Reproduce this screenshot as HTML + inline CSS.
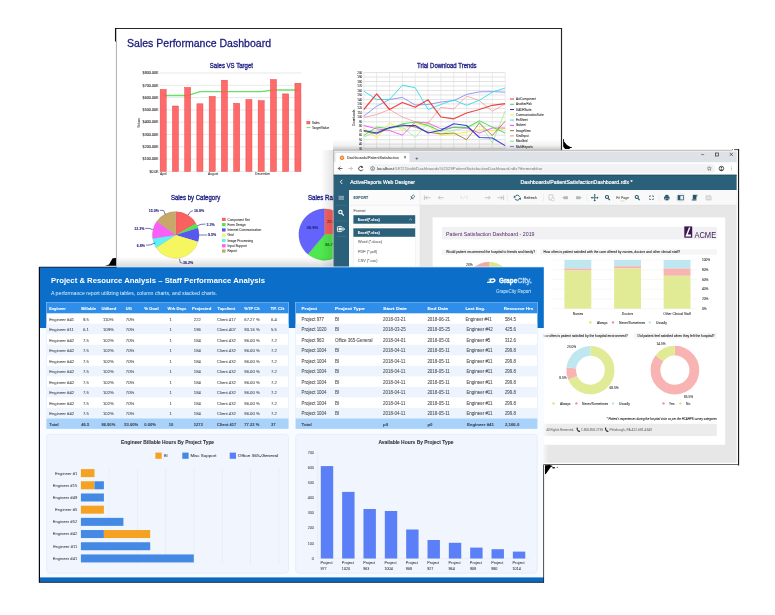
<!DOCTYPE html>
<html><head><meta charset="utf-8"><title>Dashboards</title>
<style>
html,body{margin:0;padding:0;background:#fff;}
body{width:775px;height:615px;position:relative;overflow:hidden;font-family:"Liberation Sans", sans-serif;}
svg text{font-family:"Liberation Sans", sans-serif;}
</style></head><body>
<div style="position:absolute;left:110px;top:24px;width:456px;height:250px;overflow:hidden;will-change:transform;"><svg width="456" height="250" viewBox="110 24 456 250" style="position:absolute;left:0;top:0;display:block" font-family='"Liberation Sans", sans-serif'><rect x="115.50" y="28.00" width="446.50" height="245.00" fill="#fff" /><line x1="115.00" y1="28.50" x2="562.10" y2="28.50" stroke="#262626" stroke-width="1.1" /><line x1="561.50" y1="28.00" x2="561.50" y2="152.00" stroke="#262626" stroke-width="1.15" /><line x1="115.60" y1="28.00" x2="115.60" y2="41.50" stroke="#111" stroke-width="1.3" /><line x1="116.40" y1="41.00" x2="116.40" y2="268.00" stroke="#8a8a8a" stroke-width="0.7" /><text x="127.00" y="47.20" font-size="11.4" fill="#17177a" textLength="144.00" lengthAdjust="spacingAndGlyphs" stroke="#17177a" stroke-width="0.28">Sales Performance Dashboard</text><text x="209.80" y="67.60" font-size="6.4" fill="#1c1c84" textLength="43.20" lengthAdjust="spacingAndGlyphs" stroke="#1c1c84" stroke-width="0.3">Sales VS Target</text><line x1="159.50" y1="73.00" x2="301.50" y2="73.00" stroke="#d9d9d9" stroke-width="0.6" /><text x="158.60" y="74.20" font-size="3.3" fill="#2a2a2a" text-anchor="end" textLength="16.00" lengthAdjust="spacingAndGlyphs" stroke="#2a2a2a" stroke-width="0.07">$800.00K</text><line x1="159.50" y1="85.30" x2="301.50" y2="85.30" stroke="#d9d9d9" stroke-width="0.6" /><text x="158.60" y="86.50" font-size="3.3" fill="#2a2a2a" text-anchor="end" textLength="16.00" lengthAdjust="spacingAndGlyphs" stroke="#2a2a2a" stroke-width="0.07">$700.00K</text><line x1="159.50" y1="97.60" x2="301.50" y2="97.60" stroke="#d9d9d9" stroke-width="0.6" /><text x="158.60" y="98.80" font-size="3.3" fill="#2a2a2a" text-anchor="end" textLength="16.00" lengthAdjust="spacingAndGlyphs" stroke="#2a2a2a" stroke-width="0.07">$600.00K</text><line x1="159.50" y1="109.90" x2="301.50" y2="109.90" stroke="#d9d9d9" stroke-width="0.6" /><text x="158.60" y="111.10" font-size="3.3" fill="#2a2a2a" text-anchor="end" textLength="16.00" lengthAdjust="spacingAndGlyphs" stroke="#2a2a2a" stroke-width="0.07">$500.00K</text><line x1="159.50" y1="122.20" x2="301.50" y2="122.20" stroke="#d9d9d9" stroke-width="0.6" /><text x="158.60" y="123.40" font-size="3.3" fill="#2a2a2a" text-anchor="end" textLength="16.00" lengthAdjust="spacingAndGlyphs" stroke="#2a2a2a" stroke-width="0.07">$400.00K</text><line x1="159.50" y1="134.50" x2="301.50" y2="134.50" stroke="#d9d9d9" stroke-width="0.6" /><text x="158.60" y="135.70" font-size="3.3" fill="#2a2a2a" text-anchor="end" textLength="16.00" lengthAdjust="spacingAndGlyphs" stroke="#2a2a2a" stroke-width="0.07">$300.00K</text><line x1="159.50" y1="146.80" x2="301.50" y2="146.80" stroke="#d9d9d9" stroke-width="0.6" /><text x="158.60" y="148.00" font-size="3.3" fill="#2a2a2a" text-anchor="end" textLength="16.00" lengthAdjust="spacingAndGlyphs" stroke="#2a2a2a" stroke-width="0.07">$200.00K</text><line x1="159.50" y1="159.10" x2="301.50" y2="159.10" stroke="#d9d9d9" stroke-width="0.6" /><text x="158.60" y="160.30" font-size="3.3" fill="#2a2a2a" text-anchor="end" textLength="16.00" lengthAdjust="spacingAndGlyphs" stroke="#2a2a2a" stroke-width="0.07">$100.00K</text><line x1="159.50" y1="171.40" x2="301.50" y2="171.40" stroke="#d9d9d9" stroke-width="0.6" /><text x="158.60" y="172.60" font-size="3.3" fill="#2a2a2a" text-anchor="end" textLength="9.00" lengthAdjust="spacingAndGlyphs" stroke="#2a2a2a" stroke-width="0.07">$0.0K</text><text x="0.00" y="0.00" font-size="3.3" fill="#444" transform="translate(139.5,128) rotate(-90)" stroke="#444" stroke-width="0.07">Values</text><polyline points="163.2,95.5 175.4,95.5 187.7,95.5 199.9,91.7 212.2,91.7 224.4,91.7 236.7,91.7 248.9,91.7 261.2,91.7 273.4,90 285.7,90 297.9,90" fill="none" stroke="#5fe05f" stroke-width="1.3" opacity="0.95"/><rect x="160.15" y="89.40" width="6.05" height="82.00" fill="#ff5a5a" stroke="#e04444" stroke-width="0.45" fill-opacity="0.9"/><rect x="172.40" y="106.00" width="6.05" height="65.40" fill="#ff5a5a" stroke="#e04444" stroke-width="0.45" fill-opacity="0.9"/><rect x="184.65" y="87.40" width="6.05" height="84.00" fill="#ff5a5a" stroke="#e04444" stroke-width="0.45" fill-opacity="0.9"/><rect x="196.90" y="103.80" width="6.05" height="67.60" fill="#ff5a5a" stroke="#e04444" stroke-width="0.45" fill-opacity="0.9"/><rect x="209.15" y="96.40" width="6.05" height="75.00" fill="#ff5a5a" stroke="#e04444" stroke-width="0.45" fill-opacity="0.9"/><rect x="221.40" y="80.20" width="6.05" height="91.20" fill="#ff5a5a" stroke="#e04444" stroke-width="0.45" fill-opacity="0.9"/><rect x="233.65" y="103.30" width="6.05" height="68.10" fill="#ff5a5a" stroke="#e04444" stroke-width="0.45" fill-opacity="0.9"/><rect x="245.90" y="99.50" width="6.05" height="71.90" fill="#ff5a5a" stroke="#e04444" stroke-width="0.45" fill-opacity="0.9"/><rect x="258.15" y="100.60" width="6.05" height="70.80" fill="#ff5a5a" stroke="#e04444" stroke-width="0.45" fill-opacity="0.9"/><rect x="270.40" y="79.50" width="6.05" height="91.90" fill="#ff5a5a" stroke="#e04444" stroke-width="0.45" fill-opacity="0.9"/><rect x="282.65" y="93.90" width="6.05" height="77.50" fill="#ff5a5a" stroke="#e04444" stroke-width="0.45" fill-opacity="0.9"/><rect x="294.90" y="83.20" width="6.05" height="88.20" fill="#ff5a5a" stroke="#e04444" stroke-width="0.45" fill-opacity="0.9"/><text x="160.00" y="175.30" font-size="3.3" fill="#444" stroke="#444" stroke-width="0.07">April</text><text x="208.00" y="175.30" font-size="3.3" fill="#444" stroke="#444" stroke-width="0.07">August</text><text x="255.00" y="175.30" font-size="3.3" fill="#444" stroke="#444" stroke-width="0.07">December</text><rect x="306.80" y="121.20" width="3.20" height="2.80" fill="#fb6565" stroke="#e24a4a" stroke-width="0.3"/><text x="312.00" y="123.80" font-size="3.3" fill="#333" textLength="7.50" lengthAdjust="spacingAndGlyphs" stroke="#333" stroke-width="0.07">Sales</text><line x1="306.50" y1="127.60" x2="310.50" y2="127.60" stroke="#6fe36f" stroke-width="1.0" /><text x="312.00" y="128.80" font-size="3.3" fill="#333" textLength="17.00" lengthAdjust="spacingAndGlyphs" stroke="#333" stroke-width="0.07">TargetValue</text><text x="417.00" y="67.60" font-size="6.4" fill="#1c1c84" textLength="59.60" lengthAdjust="spacingAndGlyphs" stroke="#1c1c84" stroke-width="0.3">Trial Download Trends</text><line x1="363.80" y1="72.60" x2="505.15" y2="72.60" stroke="#c6c6c6" stroke-width="0.5" /><text x="362.30" y="73.70" font-size="3.0" fill="#333" text-anchor="end" stroke="#333" stroke-width="0.07">200</text><line x1="363.80" y1="77.07" x2="505.15" y2="77.07" stroke="#c6c6c6" stroke-width="0.5" /><text x="362.30" y="78.17" font-size="3.0" fill="#333" text-anchor="end" stroke="#333" stroke-width="0.07">190</text><line x1="363.80" y1="81.54" x2="505.15" y2="81.54" stroke="#c6c6c6" stroke-width="0.5" /><text x="362.30" y="82.64" font-size="3.0" fill="#333" text-anchor="end" stroke="#333" stroke-width="0.07">180</text><line x1="363.80" y1="86.01" x2="505.15" y2="86.01" stroke="#c6c6c6" stroke-width="0.5" /><text x="362.30" y="87.11" font-size="3.0" fill="#333" text-anchor="end" stroke="#333" stroke-width="0.07">170</text><line x1="363.80" y1="90.48" x2="505.15" y2="90.48" stroke="#c6c6c6" stroke-width="0.5" /><text x="362.30" y="91.58" font-size="3.0" fill="#333" text-anchor="end" stroke="#333" stroke-width="0.07">160</text><line x1="363.80" y1="94.95" x2="505.15" y2="94.95" stroke="#c6c6c6" stroke-width="0.5" /><text x="362.30" y="96.05" font-size="3.0" fill="#333" text-anchor="end" stroke="#333" stroke-width="0.07">150</text><line x1="363.80" y1="99.42" x2="505.15" y2="99.42" stroke="#c6c6c6" stroke-width="0.5" /><text x="362.30" y="100.52" font-size="3.0" fill="#333" text-anchor="end" stroke="#333" stroke-width="0.07">140</text><line x1="363.80" y1="103.89" x2="505.15" y2="103.89" stroke="#c6c6c6" stroke-width="0.5" /><text x="362.30" y="104.99" font-size="3.0" fill="#333" text-anchor="end" stroke="#333" stroke-width="0.07">130</text><line x1="363.80" y1="108.36" x2="505.15" y2="108.36" stroke="#c6c6c6" stroke-width="0.5" /><text x="362.30" y="109.46" font-size="3.0" fill="#333" text-anchor="end" stroke="#333" stroke-width="0.07">120</text><line x1="363.80" y1="112.83" x2="505.15" y2="112.83" stroke="#c6c6c6" stroke-width="0.5" /><text x="362.30" y="113.93" font-size="3.0" fill="#333" text-anchor="end" stroke="#333" stroke-width="0.07">110</text><line x1="363.80" y1="117.30" x2="505.15" y2="117.30" stroke="#c6c6c6" stroke-width="0.5" /><text x="362.30" y="118.40" font-size="3.0" fill="#333" text-anchor="end" stroke="#333" stroke-width="0.07">100</text><line x1="363.80" y1="121.77" x2="505.15" y2="121.77" stroke="#c6c6c6" stroke-width="0.5" /><text x="362.30" y="122.87" font-size="3.0" fill="#333" text-anchor="end" stroke="#333" stroke-width="0.07">90</text><line x1="363.80" y1="126.24" x2="505.15" y2="126.24" stroke="#c6c6c6" stroke-width="0.5" /><text x="362.30" y="127.34" font-size="3.0" fill="#333" text-anchor="end" stroke="#333" stroke-width="0.07">80</text><line x1="363.80" y1="130.71" x2="505.15" y2="130.71" stroke="#c6c6c6" stroke-width="0.5" /><text x="362.30" y="131.81" font-size="3.0" fill="#333" text-anchor="end" stroke="#333" stroke-width="0.07">70</text><line x1="363.80" y1="135.18" x2="505.15" y2="135.18" stroke="#c6c6c6" stroke-width="0.5" /><text x="362.30" y="136.28" font-size="3.0" fill="#333" text-anchor="end" stroke="#333" stroke-width="0.07">60</text><line x1="363.80" y1="139.65" x2="505.15" y2="139.65" stroke="#c6c6c6" stroke-width="0.5" /><text x="362.30" y="140.75" font-size="3.0" fill="#333" text-anchor="end" stroke="#333" stroke-width="0.07">50</text><line x1="363.80" y1="144.12" x2="505.15" y2="144.12" stroke="#c6c6c6" stroke-width="0.5" /><text x="362.30" y="145.22" font-size="3.0" fill="#333" text-anchor="end" stroke="#333" stroke-width="0.07">40</text><line x1="363.80" y1="148.59" x2="505.15" y2="148.59" stroke="#c6c6c6" stroke-width="0.5" /><text x="362.30" y="149.69" font-size="3.0" fill="#333" text-anchor="end" stroke="#333" stroke-width="0.07">30</text><line x1="363.80" y1="72.60" x2="363.80" y2="148.59" stroke="#d6d6d6" stroke-width="0.5" /><line x1="376.65" y1="72.60" x2="376.65" y2="148.59" stroke="#d6d6d6" stroke-width="0.5" /><line x1="389.50" y1="72.60" x2="389.50" y2="148.59" stroke="#d6d6d6" stroke-width="0.5" /><line x1="402.35" y1="72.60" x2="402.35" y2="148.59" stroke="#d6d6d6" stroke-width="0.5" /><line x1="415.20" y1="72.60" x2="415.20" y2="148.59" stroke="#d6d6d6" stroke-width="0.5" /><line x1="428.05" y1="72.60" x2="428.05" y2="148.59" stroke="#d6d6d6" stroke-width="0.5" /><line x1="440.90" y1="72.60" x2="440.90" y2="148.59" stroke="#d6d6d6" stroke-width="0.5" /><line x1="453.75" y1="72.60" x2="453.75" y2="148.59" stroke="#d6d6d6" stroke-width="0.5" /><line x1="466.60" y1="72.60" x2="466.60" y2="148.59" stroke="#d6d6d6" stroke-width="0.5" /><line x1="479.45" y1="72.60" x2="479.45" y2="148.59" stroke="#d6d6d6" stroke-width="0.5" /><line x1="492.30" y1="72.60" x2="492.30" y2="148.59" stroke="#d6d6d6" stroke-width="0.5" /><line x1="505.15" y1="72.60" x2="505.15" y2="148.59" stroke="#d6d6d6" stroke-width="0.5" /><text x="0.00" y="0.00" font-size="3.3" fill="#333" transform="translate(355.2,126) rotate(-90)" stroke="#333" stroke-width="0.07">Downloads</text><polyline points="363.8,128 376.7,138 389.5,123 402.4,129.7 415.2,123.8 428.1,125.5 440.9,135.5 453.8,133.9 466.6,132.2 479.4,129.7 492.3,130.5 505.1,128.8" fill="none" stroke="#f0f040" stroke-width="1.0" stroke-linejoin="round" opacity="0.9"/><polyline points="363.8,137.2 376.7,131.3 389.5,128 402.4,127.1 415.2,137.5 428.1,123 440.9,133.9 453.8,130 466.6,128 479.4,122.1 492.3,143.1 505.1,111.2" fill="none" stroke="#80ee80" stroke-width="0.75" stroke-linejoin="round" opacity="0.9"/><polyline points="363.8,125.5 376.7,128.8 389.5,130.5 402.4,135.2 415.2,122.1 428.1,123 440.9,128.8 453.8,127.5 466.6,128 479.4,133 492.3,128 505.1,128" fill="none" stroke="#f040f0" stroke-width="0.9" stroke-linejoin="round" opacity="0.9"/><polyline points="363.8,131.3 376.7,133.9 389.5,128 402.4,124.6 415.2,127.1 428.1,132.2 440.9,133.9 453.8,133 466.6,139.7 479.4,123 492.3,135.5 505.1,121.3" fill="none" stroke="#a07828" stroke-width="0.95" stroke-linejoin="round" opacity="0.9"/><polyline points="363.8,135.5 376.7,127.1 389.5,128.8 402.4,123.8 415.2,122.1 428.1,125.5 440.9,131.3 453.8,127.1 466.6,127.5 479.4,120.8 492.3,127.1 505.1,133" fill="none" stroke="#40d840" stroke-width="1.0" stroke-linejoin="round" opacity="0.9"/><polyline points="363.8,130.5 376.7,133 389.5,127.5 402.4,125.8 415.2,125.5 428.1,133 440.9,130.2 453.8,123.8 466.6,125.5 479.4,137.5 492.3,138 505.1,145.6" fill="none" stroke="#2828d8" stroke-width="1.1" stroke-linejoin="round" opacity="0.9"/><polyline points="363.8,117.4 376.7,114.6 389.5,109.5 402.4,117 415.2,121.8 428.1,123 440.9,107.3 453.8,109 466.6,96.1 479.4,100.6 492.3,111.2 505.1,104" fill="none" stroke="#f28a8a" stroke-width="0.75" stroke-linejoin="round" opacity="0.9"/><polyline points="363.8,116.2 376.7,106.2 389.5,99.5 402.4,97.4 415.2,105 428.1,104.5 440.9,102 453.8,100.6 466.6,94.4 479.4,91.9 492.3,91.6 505.1,92.2" fill="none" stroke="#8888f0" stroke-width="0.95" stroke-linejoin="round" opacity="0.9"/><polyline points="363.8,91.1 376.7,99.5 389.5,99.5 402.4,85.2 415.2,87.7 428.1,109.5 440.9,104.5 453.8,100 466.6,105.3 479.4,100.3 492.3,92.2 505.1,88" fill="none" stroke="#30dcec" stroke-width="1.0" stroke-linejoin="round" opacity="0.9"/><polyline points="363.8,109.5 376.7,93.9 389.5,109.5 402.4,102.5 415.2,107.3 428.1,99.8 440.9,117 453.8,118.8 466.6,113 479.4,109.5 492.3,105.3 505.1,103.7" fill="none" stroke="#e83030" stroke-width="1.2" stroke-linejoin="round" opacity="0.9"/><line x1="510.00" y1="99.00" x2="514.00" y2="99.00" stroke="#e83030" stroke-width="1.0" /><text x="516.00" y="100.10" font-size="3.0" fill="#333" stroke="#333" stroke-width="0.07">ActComponent</text><line x1="510.00" y1="104.27" x2="514.00" y2="104.27" stroke="#40d840" stroke-width="1.0" /><text x="516.00" y="105.37" font-size="3.0" fill="#333" stroke="#333" stroke-width="0.07">AnotherPak</text><line x1="510.00" y1="109.54" x2="514.00" y2="109.54" stroke="#2828d8" stroke-width="1.0" /><text x="516.00" y="110.64" font-size="3.0" fill="#333" stroke="#333" stroke-width="0.07">DADHSuite</text><line x1="510.00" y1="114.81" x2="514.00" y2="114.81" stroke="#f0f040" stroke-width="1.0" /><text x="516.00" y="115.91" font-size="3.0" fill="#333" stroke="#333" stroke-width="0.07">CommunicationSuite</text><line x1="510.00" y1="120.08" x2="514.00" y2="120.08" stroke="#30dcec" stroke-width="1.0" /><text x="516.00" y="121.18" font-size="3.0" fill="#333" stroke="#333" stroke-width="0.07">EnSheet</text><line x1="510.00" y1="125.35" x2="514.00" y2="125.35" stroke="#f040f0" stroke-width="1.0" /><text x="516.00" y="126.45" font-size="3.0" fill="#333" stroke="#333" stroke-width="0.07">Gsheet</text><line x1="510.00" y1="130.62" x2="514.00" y2="130.62" stroke="#a07828" stroke-width="1.0" /><text x="516.00" y="131.72" font-size="3.0" fill="#333" stroke="#333" stroke-width="0.07">ImageView</text><line x1="510.00" y1="135.89" x2="514.00" y2="135.89" stroke="#f28a8a" stroke-width="1.0" /><text x="516.00" y="136.99" font-size="3.0" fill="#333" stroke="#333" stroke-width="0.07">KindInput</text><line x1="510.00" y1="141.16" x2="514.00" y2="141.16" stroke="#80ee80" stroke-width="1.0" /><text x="516.00" y="142.26" font-size="3.0" fill="#333" stroke="#333" stroke-width="0.07">MaxGrid</text><line x1="510.00" y1="146.43" x2="514.00" y2="146.43" stroke="#8888f0" stroke-width="1.0" /><text x="516.00" y="147.53" font-size="3.0" fill="#333" stroke="#333" stroke-width="0.07">MultiReports</text><text x="170.90" y="200.00" font-size="6.4" fill="#1c1c84" textLength="49.30" lengthAdjust="spacingAndGlyphs" stroke="#1c1c84" stroke-width="0.3">Sales by Category</text><path d="M175.70,235.00 L175.70,211.60 A23.4,23.4 0 0 1 196.07,223.49 Z" fill="#f96060" stroke="#00000030" stroke-width="0.3"/><path d="M175.70,235.00 L196.07,223.49 A23.4,23.4 0 0 1 198.01,227.94 Z" fill="#50e850" stroke="#00000030" stroke-width="0.3"/><path d="M175.70,235.00 L198.01,227.94 A23.4,23.4 0 0 1 198.12,241.71 Z" fill="#5858f0" stroke="#00000030" stroke-width="0.3"/><path d="M175.70,235.00 L198.12,241.71 A23.4,23.4 0 0 1 156.05,247.70 Z" fill="#f6f660" stroke="#00000030" stroke-width="0.3"/><path d="M175.70,235.00 L156.05,247.70 A23.4,23.4 0 0 1 152.55,238.41 Z" fill="#60f0f6" stroke="#00000030" stroke-width="0.3"/><path d="M175.70,235.00 L152.55,238.41 A23.4,23.4 0 0 1 156.76,221.26 Z" fill="#f860f8" stroke="#00000030" stroke-width="0.3"/><path d="M175.70,235.00 L156.76,221.26 A23.4,23.4 0 0 1 175.70,211.60 Z" fill="#c8a868" stroke="#00000030" stroke-width="0.3"/><polyline points="188,215.2 190.5,211.6 193,210.7" fill="none" stroke="#1c1c84" stroke-width="0.6"/><text x="193.90" y="212.10" font-size="3.9" fill="#1a1a78" font-weight="bold" textLength="10.20" lengthAdjust="spacingAndGlyphs" stroke="#1a1a78" stroke-width="0.07">16.8%</text><polyline points="197.2,225.8 201,224.3 205.6,224.1" fill="none" stroke="#1c1c84" stroke-width="0.6"/><text x="206.40" y="225.50" font-size="3.9" fill="#1a1a78" font-weight="bold" textLength="8.20" lengthAdjust="spacingAndGlyphs" stroke="#1a1a78" stroke-width="0.07">3.3%</text><polyline points="199,235 207.3,235" fill="none" stroke="#1c1c84" stroke-width="0.6"/><text x="208.10" y="236.40" font-size="3.9" fill="#1a1a78" font-weight="bold" textLength="8.20" lengthAdjust="spacingAndGlyphs" stroke="#1a1a78" stroke-width="0.07">9.5%</text><polyline points="179.6,258.8 180.1,262.5 182.6,263.2" fill="none" stroke="#1c1c84" stroke-width="0.6"/><text x="183.00" y="264.40" font-size="3.9" fill="#1a1a78" font-weight="bold" textLength="10.20" lengthAdjust="spacingAndGlyphs" stroke="#1a1a78" stroke-width="0.07">36.2%</text><polyline points="155.3,242.9 150,245 146,245.1" fill="none" stroke="#1c1c84" stroke-width="0.6"/><text x="144.90" y="246.50" font-size="3.9" fill="#1a1a78" text-anchor="end" font-weight="bold" textLength="8.20" lengthAdjust="spacingAndGlyphs" stroke="#1a1a78" stroke-width="0.07">6.8%</text><polyline points="152.8,229.5 149,228.4 145.2,228.3" fill="none" stroke="#1c1c84" stroke-width="0.6"/><text x="144.40" y="229.70" font-size="3.9" fill="#1a1a78" text-anchor="end" font-weight="bold" textLength="10.20" lengthAdjust="spacingAndGlyphs" stroke="#1a1a78" stroke-width="0.07">12.3%</text><polyline points="165.3,214.4 163.7,210.6 159.8,210.2" fill="none" stroke="#1c1c84" stroke-width="0.6"/><text x="159.00" y="211.60" font-size="3.9" fill="#1a1a78" text-anchor="end" font-weight="bold" textLength="10.20" lengthAdjust="spacingAndGlyphs" stroke="#1a1a78" stroke-width="0.07">15.0%</text><rect x="222.00" y="217.80" width="3.60" height="3.20" fill="#f96060" /><text x="227.50" y="220.50" font-size="3.2" fill="#333" stroke="#333" stroke-width="0.07">Component Set</text><rect x="222.00" y="223.07" width="3.60" height="3.20" fill="#50e850" /><text x="227.50" y="225.77" font-size="3.2" fill="#333" stroke="#333" stroke-width="0.07">Form Design</text><rect x="222.00" y="228.34" width="3.60" height="3.20" fill="#5858f0" /><text x="227.50" y="231.04" font-size="3.2" fill="#333" stroke="#333" stroke-width="0.07">Internet Communication</text><rect x="222.00" y="233.61" width="3.60" height="3.20" fill="#f6f660" /><text x="227.50" y="236.31" font-size="3.2" fill="#333" stroke="#333" stroke-width="0.07">Grid</text><rect x="222.00" y="238.88" width="3.60" height="3.20" fill="#60f0f6" /><text x="227.50" y="241.58" font-size="3.2" fill="#333" stroke="#333" stroke-width="0.07">Image Processing</text><rect x="222.00" y="244.15" width="3.60" height="3.20" fill="#f860f8" /><text x="227.50" y="246.85" font-size="3.2" fill="#333" stroke="#333" stroke-width="0.07">Input Support</text><rect x="222.00" y="249.42" width="3.60" height="3.20" fill="#c8a868" /><text x="227.50" y="252.12" font-size="3.2" fill="#333" stroke="#333" stroke-width="0.07">Report</text><text x="308.00" y="200.00" font-size="6.4" fill="#1c1c84" textLength="30.00" lengthAdjust="spacingAndGlyphs" stroke="#1c1c84" stroke-width="0.3">Sales Rate</text><path d="M324.50,234.60 L324.50,208.80 A25.8,25.8 0 0 1 350.30,234.60 Z" fill="#f96060" stroke="#00000030" stroke-width="0.3"/><path d="M324.50,234.60 L350.30,234.60 A25.8,25.8 0 0 1 307.92,254.36 Z" fill="#50e850" stroke="#00000030" stroke-width="0.3"/><path d="M324.50,234.60 L307.92,254.36 A25.8,25.8 0 0 1 324.50,208.80 Z" fill="#6464fc" stroke="#00000030" stroke-width="0.3"/><text x="312.40" y="229.40" font-size="4.2" fill="#14145a" text-anchor="middle" stroke="#14145a" stroke-width="0.07">38.9%</text><text x="327.00" y="223.00" font-size="4.2" fill="#7a1010" stroke="#7a1010" stroke-width="0.07">22.4%</text><text x="324.80" y="245.50" font-size="4.2" fill="#0c4a0c" stroke="#0c4a0c" stroke-width="0.07">36.7%</text><defs><linearGradient id="w1sh" x1="0" y1="0" x2="0" y2="1"><stop offset="0" stop-color="#000" stop-opacity="0"/><stop offset="1" stop-color="#000" stop-opacity="0.16"/></linearGradient></defs><rect x="116.80" y="257.00" width="220.00" height="11.00" fill="url(#w1sh)" /></svg></div>
<div style="position:absolute;left:320px;top:138px;width:422px;height:330px;overflow:hidden;will-change:transform;"><svg width="422" height="330" viewBox="320 138 422 330" style="position:absolute;left:0;top:0;display:block" font-family='"Liberation Sans", sans-serif'><defs><linearGradient id="w2l" x1="0" y1="0" x2="1" y2="0"><stop offset="0" stop-color="#000" stop-opacity="0"/><stop offset="1" stop-color="#000" stop-opacity="0.11"/></linearGradient><linearGradient id="w2r" x1="0" y1="0" x2="1" y2="0"><stop offset="0" stop-color="#fff" stop-opacity="0.6"/><stop offset="1" stop-color="#fff" stop-opacity="0"/></linearGradient><linearGradient id="w2t" x1="0" y1="0" x2="0" y2="1"><stop offset="0" stop-color="#000" stop-opacity="0"/><stop offset="0.55" stop-color="#000" stop-opacity="0.05"/><stop offset="1" stop-color="#000" stop-opacity="0.22"/></linearGradient></defs><rect x="321.00" y="150.00" width="12.60" height="118.00" fill="url(#w2l)" /><line x1="333.10" y1="203.00" x2="333.10" y2="267.00" stroke="#fff" stroke-width="0.8" opacity="0.45"/><rect x="333.00" y="139.00" width="228.00" height="11.30" fill="url(#w2t)" /><rect x="333.50" y="150.60" width="403.10" height="312.20" fill="#e8e7e7" /><rect x="333.50" y="150.60" width="403.10" height="1.20" fill="#f6f6f7" /><rect x="333.50" y="151.60" width="403.10" height="11.00" fill="#dee1e6" /><path d="M335.4,162.6 L335.4,154.5 Q335.4,153 336.9,153 L408,153 Q409.5,153 409.5,154.5 L409.5,162.6 Z" fill="#fff"/><circle cx="342" cy="157.8" r="1.8" fill="#f6b070" stroke="#ee7a1c" stroke-width="1.0"/><text x="346.80" y="159.20" font-size="4.2" fill="#444" textLength="52.00" lengthAdjust="spacingAndGlyphs" stroke="#444" stroke-width="0.07">Dashboards/PatientSatisfaction</text><text x="403.60" y="159.40" font-size="5" fill="#333">×</text><text x="415.20" y="159.60" font-size="5.5" fill="#333">+</text><line x1="701.00" y1="154.60" x2="704.20" y2="154.60" stroke="#444" stroke-width="0.6" /><rect x="715.60" y="153.00" width="3.00" height="3.00" fill="none" stroke="#333" stroke-width="0.7"/><line x1="729.80" y1="152.90" x2="732.80" y2="155.90" stroke="#333" stroke-width="0.7" /><line x1="732.80" y1="152.90" x2="729.80" y2="155.90" stroke="#333" stroke-width="0.7" /><rect x="333.50" y="162.30" width="403.10" height="12.50" fill="#fff" /><rect x="368.5" y="164" width="347" height="9" rx="4.5" fill="#f1f3f4"/><path d="M342.5,168.5 H338.3 M340.2,166.6 L338.3,168.5 L340.2,170.4" stroke="#444" stroke-width="0.8" fill="none"/><path d="M348.3,168.5 H352.5 M350.6,166.6 L352.5,168.5 L350.6,170.4" stroke="#bbb" stroke-width="0.8" fill="none"/><path d="M362.6,167.3 A2.2,2.2 0 1 0 362.9,169.4" stroke="#333" stroke-width="0.85" fill="none"/><path d="M361.6,165.6 L363.3,167.6 L360.8,167.8 Z" fill="#333"/><circle cx="372.6" cy="168.5" r="1.9" fill="none" stroke="#555" stroke-width="0.6"/><line x1="372.6" y1="167.6" x2="372.6" y2="169.7" stroke="#555" stroke-width="0.6"/><text x="377" y="170" font-size="4.3" textLength="165.3" lengthAdjust="spacingAndGlyphs"><tspan fill="#222">localhost</tspan><tspan fill="#777">:58721/edit/Dashboards%2529PatientSatisfactionDashboard.rdlx?theme=blue</tspan></text><path d="M709.3,166.4 l0.6,1.4 1.5,0.1 -1.15,1 0.35,1.5 -1.3,-0.8 -1.3,0.8 0.35,-1.5 -1.15,-1 1.5,-0.1 Z" fill="none" stroke="#555" stroke-width="0.5"/><circle cx="721.4" cy="168.5" r="2.3" fill="#fff" stroke="#333" stroke-width="0.8"/><circle cx="721.4" cy="167.7" r="0.8" fill="#333"/><path d="M719.8,170.1 Q721.4,168.5 723,170.1 Q721.4,171.2 719.8,170.1Z" fill="#333"/><circle cx="731.5" cy="166.9" r="0.38" fill="#555"/><circle cx="731.5" cy="168.5" r="0.38" fill="#555"/><circle cx="731.5" cy="170.1" r="0.38" fill="#555"/><rect x="333.50" y="174.80" width="403.10" height="15.20" fill="#2a607a" /><line x1="333.50" y1="175.20" x2="736.60" y2="175.20" stroke="#1f4c61" stroke-width="0.8" /><path d="M342.3,179.8 L340.3,181.9 L342.3,184" stroke="#fff" stroke-width="0.9" fill="none"/><text x="350.20" y="184.00" font-size="6.1" fill="#fff" textLength="64.80" lengthAdjust="spacingAndGlyphs" stroke="#fff" stroke-width="0.2">ActiveReports Web Designer</text><text x="520.60" y="184.00" font-size="6.1" fill="#fff" textLength="112.00" lengthAdjust="spacingAndGlyphs" stroke="#fff" stroke-width="0.2">Dashboards/PatientSatisfactionDashboard.rdlx *</text><rect x="333.50" y="190.00" width="15.50" height="272.80" fill="#2a607a" /><line x1="336.50" y1="205.30" x2="346.00" y2="205.30" stroke="#4b7a90" stroke-width="0.5" /><line x1="336.50" y1="221.00" x2="346.00" y2="221.00" stroke="#4b7a90" stroke-width="0.5" /><line x1="336.50" y1="236.50" x2="346.00" y2="236.50" stroke="#4b7a90" stroke-width="0.5" /><rect x="338.60" y="195.80" width="5.40" height="4.00" fill="#8fa9b6" /><line x1="338.60" y1="197.10" x2="344.00" y2="197.10" stroke="#2a607a" stroke-width="0.3" /><line x1="338.60" y1="198.50" x2="344.00" y2="198.50" stroke="#2a607a" stroke-width="0.3" /><circle cx="340.4" cy="212" r="1.7" fill="none" stroke="#fff" stroke-width="1.15"/><line x1="341.7" y1="213.4" x2="343.8" y2="215.6" stroke="#fff" stroke-width="1.3"/><rect x="337.4" y="226.6" width="4.6" height="5" rx="0.8" fill="none" stroke="#fff" stroke-width="0.9"/><path d="M340,229.1 H344.6 M343.2,227.7 L344.7,229.1 L343.2,230.5" stroke="#fff" stroke-width="0.8" fill="none"/><rect x="338.6" y="227.8" width="2.2" height="2.6" fill="#fff"/><rect x="349.00" y="190.00" width="71.00" height="272.80" fill="#fbfbfb" /><line x1="349.00" y1="205.20" x2="420.00" y2="205.20" stroke="#e3e3e3" stroke-width="0.5" /><line x1="420.00" y1="190.00" x2="420.00" y2="465.00" stroke="#dcdcdc" stroke-width="0.5" /><text x="353.60" y="199.30" font-size="4.0" fill="#27566b" font-weight="bold" textLength="14.50" lengthAdjust="spacingAndGlyphs" stroke="#27566b" stroke-width="0.07">EXPORT</text><g transform="translate(412.3,197.5) rotate(40)"><rect x="-1.1" y="-2.6" width="2.2" height="3" fill="none" stroke="#27566b" stroke-width="0.6"/><line x1="-1.9" y1="0.5" x2="1.9" y2="0.5" stroke="#27566b" stroke-width="0.6"/><line x1="0" y1="0.5" x2="0" y2="3" stroke="#27566b" stroke-width="0.6"/></g><text x="353.50" y="212.00" font-size="3.7" fill="#666" textLength="12.00" lengthAdjust="spacingAndGlyphs" stroke="#666" stroke-width="0.07">Format</text><rect x="353.40" y="215.20" width="61.80" height="8.50" fill="#2a607a" /><text x="357.80" y="220.90" font-size="4.1" fill="#fff" font-weight="bold" textLength="22.00" lengthAdjust="spacingAndGlyphs" stroke="#fff" stroke-width="0.07">Excel(*.xlsx)</text><path d="M409.2,220.2 L410.6,218.8 L412,220.2" stroke="#fff" stroke-width="0.5" fill="none"/><rect x="353.40" y="226.20" width="61.80" height="41.00" fill="#fff" stroke="#e6e6e6" stroke-width="0.4"/><rect x="353.40" y="228.30" width="61.80" height="8.50" fill="#2a607a" /><text x="357.80" y="234.00" font-size="4.1" fill="#fff" font-weight="bold" textLength="22.00" lengthAdjust="spacingAndGlyphs" stroke="#fff" stroke-width="0.07">Excel(*.xlsx)</text><text x="358.00" y="243.30" font-size="4.1" fill="#666" textLength="24.00" lengthAdjust="spacingAndGlyphs" stroke="#666" stroke-width="0.07">Word (*.docx)</text><text x="358.00" y="252.60" font-size="4.1" fill="#666" textLength="19.00" lengthAdjust="spacingAndGlyphs" stroke="#666" stroke-width="0.07">PDF (*.pdf)</text><text x="358.00" y="261.80" font-size="4.1" fill="#666" textLength="19.50" lengthAdjust="spacingAndGlyphs" stroke="#666" stroke-width="0.07">CSV (*.csv)</text><rect x="420.30" y="190.00" width="316.30" height="15.00" fill="#f9f9f9" /><line x1="420.30" y1="205.20" x2="736.60" y2="205.20" stroke="#dcdcdc" stroke-width="0.5" /><path d="M430.6,197.7 H425.4 M427.1,195.89999999999998 L425.3,197.7 L427.1,199.5" stroke="#a9b4ba" stroke-width="0.7" fill="none"/><line x1="424.40" y1="195.30" x2="424.40" y2="200.10" stroke="#a9b4ba" stroke-width="0.7" /><path d="M443.6,197.7 H438.4 M440.1,195.89999999999998 L438.3,197.7 L440.1,199.5" stroke="#a9b4ba" stroke-width="0.7" fill="none"/><text x="464.00" y="199.00" font-size="4" fill="#d0d4d6" text-anchor="middle" stroke="#d0d4d6" stroke-width="0.07">1 / 1</text><path d="M484.9,197.7 H490.1 M488.4,195.89999999999998 L490.2,197.7 L488.4,199.5" stroke="#a9b4ba" stroke-width="0.7" fill="none"/><path d="M497.4,197.7 H502.6 M500.9,195.89999999999998 L502.7,197.7 L500.9,199.5" stroke="#a9b4ba" stroke-width="0.7" fill="none"/><line x1="503.60" y1="195.30" x2="503.60" y2="200.10" stroke="#a9b4ba" stroke-width="0.7" /><line x1="507.50" y1="194.00" x2="507.50" y2="201.50" stroke="#e2e2e2" stroke-width="0.5" /><path d="M519.6,196.8 A2.5,2.5 0 0 0 515,196.6 M515,198.8 A2.5,2.5 0 0 0 519.6,198.6" stroke="#27566b" stroke-width="0.9" fill="none"/><path d="M513.9,195.5 L516,197.2 L513.7,197.9Z M520.8,199.9 L518.6,198.2 L521,197.5Z" fill="#27566b"/><text x="523.80" y="199.10" font-size="4.1" fill="#444" textLength="13.00" lengthAdjust="spacingAndGlyphs" stroke="#444" stroke-width="0.07">Refresh</text><line x1="543.50" y1="194.00" x2="543.50" y2="201.50" stroke="#e2e2e2" stroke-width="0.5" /><rect x="549" y="194.7" width="4" height="5.2" rx="0.6" fill="none" stroke="#a9b4ba" stroke-width="0.6"/><circle cx="552.8" cy="199.4" r="1.5" fill="#fdfdfd" stroke="#a9b4ba" stroke-width="0.5"/><path d="M562.2,197.7 L565,195.9 V199.5Z" fill="#a9b4ba"/><rect x="565.2" y="196.2" width="2.6" height="3" fill="#a9b4ba"/><path d="M581.8,197.7 L579,195.9 V199.5Z" fill="#a9b4ba"/><rect x="576.2" y="196.2" width="2.6" height="3" fill="#a9b4ba"/><line x1="587.00" y1="194.00" x2="587.00" y2="201.50" stroke="#e2e2e2" stroke-width="0.5" /><path d="M594.7,194.6 V200.8 M591.6,197.7 H597.8" stroke="#27566b" stroke-width="0.8"/><path d="M594.7,193.9 l1.2,1.4 h-2.4Z M594.7,201.5 l1.2,-1.4 h-2.4Z M590.9,197.7 l1.4,-1.2 v2.4Z M598.5,197.7 l-1.4,-1.2 v2.4Z" fill="#27566b"/><circle cx="607.0" cy="197.0" r="1.6" fill="none" stroke="#27566b" stroke-width="1.05"/><line x1="608.2" y1="198.29999999999998" x2="609.8000000000001" y2="200.1" stroke="#27566b" stroke-width="1.15"/><text x="616.30" y="199.10" font-size="4.0" fill="#555" textLength="12.50" lengthAdjust="spacingAndGlyphs" stroke="#555" stroke-width="0.07">Fit Page</text><line x1="620.50" y1="201.00" x2="624.50" y2="201.00" stroke="#888" stroke-width="0.3" /><circle cx="636.8" cy="197.0" r="1.6" fill="none" stroke="#27566b" stroke-width="1.05"/><line x1="638.0" y1="198.29999999999998" x2="639.6" y2="200.1" stroke="#27566b" stroke-width="1.15"/><path d="M649.7,197 V195.9 H650.8 M652.2,195.9 H653.3 V197 M653.3,198.4 V199.5 H652.2 M650.8,199.5 H649.7 V198.4" stroke="#27566b" stroke-width="0.8" fill="none"/><line x1="659.00" y1="194.00" x2="659.00" y2="201.50" stroke="#e2e2e2" stroke-width="0.5" /><rect x="664.1" y="196.6" width="5.4" height="2.8" rx="0.5" fill="#27566b"/><rect x="665.2" y="194.9" width="3.2" height="1.9" fill="#27566b"/><rect x="665.2" y="198.6" width="3.2" height="1.9" fill="#27566b" stroke="#fdfdfd" stroke-width="0.3"/><circle cx="680.7" cy="197.7" r="4.6" fill="#eef0f1" stroke="#dfe3e5" stroke-width="0.3"/><rect x="678" y="195.5" width="5.4" height="4.4" fill="none" stroke="#27566b" stroke-width="0.7"/><rect x="678" y="195.5" width="2.3" height="4.4" fill="#27566b"/><rect x="692.8" y="194.8" width="3.6" height="4.6" fill="#27566b"/><rect x="691.8" y="199.4" width="4.6" height="1.1" fill="#27566b"/><path d="M696.4,194.8 h0.9 v1.6 h-0.9Z" fill="#27566b"/><path d="M706,195.6 L707.7,196.3 L709.3,195.6 L711,196.3 V200.2 L709.3,199.5 L707.7,200.2 L706,199.5Z" fill="none" stroke="#a9b4ba" stroke-width="0.6"/><path d="M707.7,196.3V200.2 M709.3,195.6 V199.5" stroke="#a9b4ba" stroke-width="0.5"/><rect x="432.60" y="217.40" width="292.60" height="227.40" fill="#fff" /><rect x="441.90" y="227.00" width="275.00" height="12.40" fill="#f1f0f3" /><text x="446.00" y="236.20" font-size="6.1" fill="#542a6a" textLength="88.50" lengthAdjust="spacingAndGlyphs">Patient Satisfaction Dashboard - 2019</text><rect x="684.30" y="226.40" width="7.90" height="11.30" fill="#3c1850" /><path d="M685.4,236.6 L688.9,227.6 L690.4,227.6 L687.7,234.4 L690.9,234.4 L690.9,236.6 Z" fill="#fff"/><text x="694.40" y="237.60" font-size="8.8" fill="#3c1850" textLength="21.80" lengthAdjust="spacingAndGlyphs">ACME</text><rect x="441.90" y="249.20" width="95.10" height="5.80" fill="#f6f6f7" /><text x="446.00" y="253.30" font-size="3.3" fill="#222" textLength="89.00" lengthAdjust="spacingAndGlyphs" stroke="#222" stroke-width="0.07">Would patient recommend the hospital to friends and family?</text><rect x="540.00" y="249.20" width="176.80" height="5.80" fill="#f6f6f7" /><text x="543.60" y="253.30" font-size="3.3" fill="#222" textLength="136.60" lengthAdjust="spacingAndGlyphs" stroke="#222" stroke-width="0.07">How often is patient satisfied with the care offered by nurses, doctors and other clinical staff?</text><path d="M489.00,284.00 L489.00,261.80 A22.2,22.2 0 0 1 489.00,306.20 Z" fill="#dfe58e" /><path d="M489.00,284.00 L489.00,306.20 A22.2,22.2 0 0 1 489.00,261.80 Z" fill="#f1a9a6" /><text x="466.00" y="265.70" font-size="3.3" fill="#333" stroke="#333" stroke-width="0.07">23%</text><line x1="553.00" y1="260.00" x2="697.00" y2="260.00" stroke="#ececec" stroke-width="0.4" /><text x="702.00" y="261.20" font-size="3.2" fill="#333" stroke="#333" stroke-width="0.07">100%</text><line x1="553.00" y1="269.74" x2="697.00" y2="269.74" stroke="#ececec" stroke-width="0.4" /><text x="702.00" y="270.94" font-size="3.2" fill="#333" stroke="#333" stroke-width="0.07">80%</text><line x1="553.00" y1="279.48" x2="697.00" y2="279.48" stroke="#ececec" stroke-width="0.4" /><text x="702.00" y="280.68" font-size="3.2" fill="#333" stroke="#333" stroke-width="0.07">60%</text><line x1="553.00" y1="289.22" x2="697.00" y2="289.22" stroke="#ececec" stroke-width="0.4" /><text x="702.00" y="290.42" font-size="3.2" fill="#333" stroke="#333" stroke-width="0.07">40%</text><line x1="553.00" y1="298.96" x2="697.00" y2="298.96" stroke="#ececec" stroke-width="0.4" /><text x="702.00" y="300.16" font-size="3.2" fill="#333" stroke="#333" stroke-width="0.07">20%</text><line x1="553.00" y1="308.70" x2="697.00" y2="308.70" stroke="#ececec" stroke-width="0.4" /><text x="702.00" y="309.90" font-size="3.2" fill="#333" stroke="#333" stroke-width="0.07">0%</text><rect x="564.40" y="260.00" width="26.90" height="8.50" fill="#bfe7f0" /><rect x="564.40" y="268.50" width="26.90" height="2.00" fill="#f8b4b2" /><rect x="564.40" y="270.50" width="26.90" height="38.20" fill="#e1eb96" /><rect x="614.10" y="260.00" width="26.90" height="6.20" fill="#bfe7f0" /><rect x="614.10" y="266.20" width="26.90" height="2.30" fill="#f8b4b2" /><rect x="614.10" y="268.50" width="26.90" height="40.20" fill="#e1eb96" /><rect x="663.60" y="260.00" width="26.90" height="8.50" fill="#bfe7f0" /><rect x="663.60" y="268.50" width="26.90" height="7.30" fill="#f8b4b2" /><rect x="663.60" y="275.80" width="26.90" height="32.90" fill="#e1eb96" /><text x="578.00" y="314.60" font-size="3.3" fill="#333" text-anchor="middle" stroke="#333" stroke-width="0.07">Nurses</text><text x="627.50" y="314.60" font-size="3.3" fill="#333" text-anchor="middle" stroke="#333" stroke-width="0.07">Doctors</text><text x="677.00" y="314.60" font-size="3.3" fill="#333" text-anchor="middle" stroke="#333" stroke-width="0.07">Other Clinical Staff</text><circle cx="590.4" cy="322.4" r="1.2" fill="#dbe86a"/><text x="597.00" y="323.60" font-size="3.3" fill="#333" stroke="#333" stroke-width="0.07">Always</text><circle cx="613" cy="322.4" r="1.2" fill="#f78b9a"/><text x="619.00" y="323.60" font-size="3.3" fill="#333" stroke="#333" stroke-width="0.07">Never/Sometimes</text><circle cx="649.8" cy="322.4" r="1.2" fill="#b9e6f0"/><text x="656.00" y="323.60" font-size="3.3" fill="#333" stroke="#333" stroke-width="0.07">Usually</text><rect x="441.90" y="332.80" width="187.00" height="5.80" fill="#f6f6f7" /><text x="627.70" y="337.00" font-size="3.3" fill="#222" text-anchor="end" textLength="86.00" lengthAdjust="spacingAndGlyphs" stroke="#222" stroke-width="0.07">How often is patient satisfied by the hospital environment?</text><rect x="634.00" y="332.80" width="82.80" height="5.80" fill="#f6f6f7" /><text x="637.50" y="337.00" font-size="3.3" fill="#222" textLength="77.00" lengthAdjust="spacingAndGlyphs" stroke="#222" stroke-width="0.07">Did patient feel satisfied when they left the hospital?</text><path d="M590.40,346.10 A24.1,24.1 0 1 1 568.28,379.77 L577.18,375.92 A14.4,14.4 0 1 0 590.40,355.80 Z" fill="#e1eb96" /><path d="M568.28,379.77 A24.1,24.1 0 0 1 566.49,367.18 L576.11,368.40 A14.4,14.4 0 0 0 577.18,375.92 Z" fill="#f8b4b2" /><path d="M566.49,367.18 A24.1,24.1 0 0 1 590.40,346.10 L590.40,355.80 A14.4,14.4 0 0 0 576.11,368.40 Z" fill="#bfe7f0" /><text x="571.50" y="348.30" font-size="3.2" fill="#333" text-anchor="middle" stroke="#333" stroke-width="0.07">23.0%</text><text x="563.00" y="379.30" font-size="3.2" fill="#333" text-anchor="middle" stroke="#333" stroke-width="0.07">8.5%</text><text x="614.00" y="389.30" font-size="3.2" fill="#333" text-anchor="middle" stroke="#333" stroke-width="0.07">68.5%</text><path d="M674.90,345.80 A24.4,24.4 0 1 1 655.62,355.25 L663.36,361.25 A14.6,14.6 0 1 0 674.90,355.60 Z" fill="#f8b4b2" /><path d="M655.62,355.25 A24.4,24.4 0 0 1 674.90,345.80 L674.90,355.60 A14.6,14.6 0 0 0 663.36,361.25 Z" fill="#e1eb96" /><text x="661.00" y="345.30" font-size="3.2" fill="#333" text-anchor="middle" stroke="#333" stroke-width="0.07">14.5%</text><text x="688.50" y="398.40" font-size="3.2" fill="#333" text-anchor="middle" stroke="#333" stroke-width="0.07">85.5%</text><circle cx="553.6" cy="403.4" r="1.2" fill="#dbe86a"/><text x="560.00" y="404.60" font-size="3.3" fill="#333" stroke="#333" stroke-width="0.07">Always</text><circle cx="576.4" cy="403.4" r="1.2" fill="#f78b9a"/><text x="582.00" y="404.60" font-size="3.3" fill="#333" stroke="#333" stroke-width="0.07">Never/Sometimes</text><circle cx="613" cy="403.4" r="1.2" fill="#b9e6f0"/><text x="619.00" y="404.60" font-size="3.3" fill="#333" stroke="#333" stroke-width="0.07">Usually</text><circle cx="663.5" cy="403.4" r="1.2" fill="#f78b9a"/><text x="669.00" y="404.60" font-size="3.3" fill="#333" stroke="#333" stroke-width="0.07">Yes</text><circle cx="680.4" cy="403.4" r="1.2" fill="#dbe86a"/><text x="686.00" y="404.60" font-size="3.3" fill="#333" stroke="#333" stroke-width="0.07">No</text><text x="717.00" y="420.20" font-size="3.2" fill="#222" text-anchor="end" textLength="110.50" lengthAdjust="spacingAndGlyphs" font-style="italic" stroke="#222" stroke-width="0.07">* Patient's experiences during the hospital visits as per the HCAHPS survey categories</text><rect x="441.90" y="423.80" width="274.90" height="12.30" fill="#ececec" /><text x="546.30" y="431.00" font-size="3.6" fill="#777" textLength="27.70" lengthAdjust="spacingAndGlyphs" stroke="#777" stroke-width="0.07">All Rights Reserved.</text><path d="M576.6,427.7 q0.3,-0.5 0.9,-0.1 l0.5,0.9 q-0.1,0.4 -0.4,0.5 q0.3,0.9 1.1,1.5 q0.4,-0.2 0.7,0 l0.7,0.7 q0.1,0.5 -0.4,0.8 q-1,0.3 -2.2,-0.9 q-1.3,-1.5 -0.9,-3.4Z" fill="#333"/><text x="581.00" y="431.00" font-size="3.6" fill="#777" textLength="22.00" lengthAdjust="spacingAndGlyphs" stroke="#777" stroke-width="0.07">1.800.858.2739</text><path d="M605,427.7 q0.3,-0.5 0.9,-0.1 l0.5,0.9 q-0.1,0.4 -0.4,0.5 q0.3,0.9 1.1,1.5 q0.4,-0.2 0.7,0 l0.7,0.7 q0.1,0.5 -0.4,0.8 q-1,0.3 -2.2,-0.9 q-1.3,-1.5 -0.9,-3.4Z" fill="#333"/><text x="609.60" y="431.00" font-size="3.6" fill="#777" textLength="42.40" lengthAdjust="spacingAndGlyphs" stroke="#777" stroke-width="0.07">Pittsburgh, PA 412.681.4343</text><rect x="543.80" y="267.00" width="5.00" height="196.00" fill="url(#w2r)" /><line x1="738.55" y1="149.30" x2="738.55" y2="465.50" stroke="#1c1c1c" stroke-width="1.15" /><line x1="543.50" y1="464.50" x2="738.20" y2="464.50" stroke="#4a4a4a" stroke-width="0.8" /><line x1="333.50" y1="150.30" x2="732.20" y2="150.30" stroke="#a4a4a4" stroke-width="0.75" /><line x1="333.60" y1="150.30" x2="333.60" y2="267.00" stroke="#9a9a9a" stroke-width="0.6" /><line x1="734.20" y1="149.60" x2="739.10" y2="149.60" stroke="#111" stroke-width="0.75" /><rect x="732.20" y="149.20" width="0.70" height="0.70" fill="#111" /></svg></div>
<div style="position:absolute;left:36px;top:264px;width:512px;height:322px;overflow:hidden;will-change:transform;"><svg width="512" height="322" viewBox="36 264 512 322" style="position:absolute;left:0;top:0;display:block" font-family='"Liberation Sans", sans-serif'><rect x="39.40" y="267.00" width="504.40" height="315.40" fill="#f8fbff" /><rect x="39.40" y="267.00" width="504.40" height="61.00" fill="#0b6fc9" /><rect x="39.40" y="577.40" width="504.40" height="4.80" fill="#0a69c2" /><text x="51.00" y="283.40" font-size="8.0" fill="#fff" font-weight="bold" textLength="214.00" lengthAdjust="spacingAndGlyphs">Project &amp; Resource Analysis – Staff Performance Analysis</text><text x="51.00" y="294.80" font-size="5.0" fill="#e4f0fc" textLength="166.00" lengthAdjust="spacingAndGlyphs">A performance report utilizing tables, column charts, and stacked charts.</text><g transform="rotate(-16 492.6 280.6)"><ellipse cx="492.6" cy="280.6" rx="2.3" ry="1.55" fill="none" stroke="#fff" stroke-width="1.45"/></g><path d="M490.6,281.6 Q489,282.7 487.2,282.2" stroke="#fff" stroke-width="1.35" fill="none"/><path d="M488.6,279.9 Q489.6,278.9 491.2,278.8" stroke="#fff" stroke-width="1.0" fill="none"/><text x="499.00" y="282.90" font-size="7.3" fill="#fff" font-weight="bold" textLength="18.20" lengthAdjust="spacingAndGlyphs" stroke="#fff" stroke-width="0.35">Grape</text><text x="517.60" y="282.90" font-size="7.3" fill="#8fc3f2" font-weight="bold" textLength="13.90" lengthAdjust="spacingAndGlyphs" stroke="#e8f3fd" stroke-width="0.3" fill-opacity="0.75">City.</text><text x="496.00" y="293.00" font-size="4.6" fill="#c4dff7" textLength="35.00" lengthAdjust="spacingAndGlyphs" stroke="#c4dff7" stroke-width="0.07">GrapeCity Report</text><rect x="46.50" y="302.40" width="242.00" height="126.40" fill="#fff" stroke="#cfe2f8" stroke-width="0.4"/><rect x="46.50" y="302.40" width="242.00" height="10.90" fill="#2f8eea" /><rect x="46.50" y="323.72" width="242.00" height="10.52" fill="#edf4fe" /><rect x="46.50" y="344.76" width="242.00" height="10.52" fill="#edf4fe" /><rect x="46.50" y="365.80" width="242.00" height="10.52" fill="#edf4fe" /><rect x="46.50" y="386.84" width="242.00" height="10.52" fill="#edf4fe" /><rect x="46.50" y="407.88" width="242.00" height="10.52" fill="#edf4fe" /><rect x="46.50" y="418.40" width="242.00" height="10.40" fill="#a9d2fa" /><text x="49.20" y="309.80" font-size="4.1" fill="#fff" font-weight="bold" textLength="16.50" lengthAdjust="spacingAndGlyphs" stroke="#fff" stroke-width="0.07">Engineer</text><text x="81.20" y="309.80" font-size="4.1" fill="#fff" font-weight="bold" textLength="14.85" lengthAdjust="spacingAndGlyphs" stroke="#fff" stroke-width="0.07">Billable</text><text x="101.40" y="309.80" font-size="4.1" fill="#fff" font-weight="bold" textLength="14.85" lengthAdjust="spacingAndGlyphs" stroke="#fff" stroke-width="0.07">Utilized</text><text x="125.80" y="309.80" font-size="4.1" fill="#fff" font-weight="bold" textLength="6.05" lengthAdjust="spacingAndGlyphs" stroke="#fff" stroke-width="0.07">UG</text><text x="144.30" y="309.80" font-size="4.1" fill="#fff" font-weight="bold" textLength="14.30" lengthAdjust="spacingAndGlyphs" stroke="#fff" stroke-width="0.07">% Goal</text><text x="167.60" y="309.80" font-size="4.1" fill="#fff" font-weight="bold" textLength="18.70" lengthAdjust="spacingAndGlyphs" stroke="#fff" stroke-width="0.07">Wrk Days</text><text x="192.00" y="309.80" font-size="4.1" fill="#fff" font-weight="bold" textLength="19.25" lengthAdjust="spacingAndGlyphs" stroke="#fff" stroke-width="0.07">Projected</text><text x="217.50" y="309.80" font-size="4.1" fill="#fff" font-weight="bold" textLength="17.60" lengthAdjust="spacingAndGlyphs" stroke="#fff" stroke-width="0.07">Topclient</text><text x="244.30" y="309.80" font-size="4.1" fill="#fff" font-weight="bold" textLength="15.40" lengthAdjust="spacingAndGlyphs" stroke="#fff" stroke-width="0.07">%TP Clt</text><text x="270.40" y="309.80" font-size="4.1" fill="#fff" font-weight="bold" textLength="13.75" lengthAdjust="spacingAndGlyphs" stroke="#fff" stroke-width="0.07">TP. Clt</text><text x="49.20" y="320.70" font-size="4.2" fill="#505050" stroke="#505050" stroke-width="0.07">Engineer #41</text><text x="83.00" y="320.70" font-size="4.2" fill="#505050" stroke="#505050" stroke-width="0.07">9.5</text><text x="103.00" y="320.70" font-size="4.2" fill="#505050" stroke="#505050" stroke-width="0.07">110%</text><text x="125.80" y="320.70" font-size="4.2" fill="#505050" stroke="#505050" stroke-width="0.07">70%</text><text x="169.40" y="320.70" font-size="4.2" fill="#505050" stroke="#505050" stroke-width="0.07">1</text><text x="193.80" y="320.70" font-size="4.2" fill="#505050" stroke="#505050" stroke-width="0.07">222</text><text x="217.00" y="320.70" font-size="4.2" fill="#505050" stroke="#505050" stroke-width="0.07">Client 417</text><text x="244.30" y="320.70" font-size="4.2" fill="#505050" stroke="#505050" stroke-width="0.07">67.27 %</text><text x="271.00" y="320.70" font-size="4.2" fill="#505050" stroke="#505050" stroke-width="0.07">6.4</text><text x="49.20" y="331.22" font-size="4.2" fill="#505050" stroke="#505050" stroke-width="0.07">Engineer #11</text><text x="83.00" y="331.22" font-size="4.2" fill="#505050" stroke="#505050" stroke-width="0.07">6.1</text><text x="103.00" y="331.22" font-size="4.2" fill="#505050" stroke="#505050" stroke-width="0.07">109%</text><text x="125.80" y="331.22" font-size="4.2" fill="#505050" stroke="#505050" stroke-width="0.07">70%</text><text x="169.40" y="331.22" font-size="4.2" fill="#505050" stroke="#505050" stroke-width="0.07">1</text><text x="193.80" y="331.22" font-size="4.2" fill="#505050" stroke="#505050" stroke-width="0.07">196</text><text x="217.00" y="331.22" font-size="4.2" fill="#505050" stroke="#505050" stroke-width="0.07">Client 407</text><text x="244.30" y="331.22" font-size="4.2" fill="#505050" stroke="#505050" stroke-width="0.07">90.16 %</text><text x="271.00" y="331.22" font-size="4.2" fill="#505050" stroke="#505050" stroke-width="0.07">5.5</text><text x="49.20" y="341.74" font-size="4.2" fill="#505050" stroke="#505050" stroke-width="0.07">Engineer #42</text><text x="83.00" y="341.74" font-size="4.2" fill="#505050" stroke="#505050" stroke-width="0.07">7.5</text><text x="103.00" y="341.74" font-size="4.2" fill="#505050" stroke="#505050" stroke-width="0.07">102%</text><text x="125.80" y="341.74" font-size="4.2" fill="#505050" stroke="#505050" stroke-width="0.07">70%</text><text x="169.40" y="341.74" font-size="4.2" fill="#505050" stroke="#505050" stroke-width="0.07">1</text><text x="193.80" y="341.74" font-size="4.2" fill="#505050" stroke="#505050" stroke-width="0.07">184</text><text x="217.00" y="341.74" font-size="4.2" fill="#505050" stroke="#505050" stroke-width="0.07">Client 432</text><text x="244.30" y="341.74" font-size="4.2" fill="#505050" stroke="#505050" stroke-width="0.07">96.00 %</text><text x="271.00" y="341.74" font-size="4.2" fill="#505050" stroke="#505050" stroke-width="0.07">7.2</text><text x="49.20" y="352.26" font-size="4.2" fill="#505050" stroke="#505050" stroke-width="0.07">Engineer #42</text><text x="83.00" y="352.26" font-size="4.2" fill="#505050" stroke="#505050" stroke-width="0.07">7.5</text><text x="103.00" y="352.26" font-size="4.2" fill="#505050" stroke="#505050" stroke-width="0.07">102%</text><text x="125.80" y="352.26" font-size="4.2" fill="#505050" stroke="#505050" stroke-width="0.07">70%</text><text x="169.40" y="352.26" font-size="4.2" fill="#505050" stroke="#505050" stroke-width="0.07">1</text><text x="193.80" y="352.26" font-size="4.2" fill="#505050" stroke="#505050" stroke-width="0.07">184</text><text x="217.00" y="352.26" font-size="4.2" fill="#505050" stroke="#505050" stroke-width="0.07">Client 432</text><text x="244.30" y="352.26" font-size="4.2" fill="#505050" stroke="#505050" stroke-width="0.07">96.00 %</text><text x="271.00" y="352.26" font-size="4.2" fill="#505050" stroke="#505050" stroke-width="0.07">7.2</text><text x="49.20" y="362.78" font-size="4.2" fill="#505050" stroke="#505050" stroke-width="0.07">Engineer #42</text><text x="83.00" y="362.78" font-size="4.2" fill="#505050" stroke="#505050" stroke-width="0.07">7.5</text><text x="103.00" y="362.78" font-size="4.2" fill="#505050" stroke="#505050" stroke-width="0.07">102%</text><text x="125.80" y="362.78" font-size="4.2" fill="#505050" stroke="#505050" stroke-width="0.07">70%</text><text x="169.40" y="362.78" font-size="4.2" fill="#505050" stroke="#505050" stroke-width="0.07">1</text><text x="193.80" y="362.78" font-size="4.2" fill="#505050" stroke="#505050" stroke-width="0.07">184</text><text x="217.00" y="362.78" font-size="4.2" fill="#505050" stroke="#505050" stroke-width="0.07">Client 432</text><text x="244.30" y="362.78" font-size="4.2" fill="#505050" stroke="#505050" stroke-width="0.07">96.00 %</text><text x="271.00" y="362.78" font-size="4.2" fill="#505050" stroke="#505050" stroke-width="0.07">7.2</text><text x="49.20" y="373.30" font-size="4.2" fill="#505050" stroke="#505050" stroke-width="0.07">Engineer #42</text><text x="83.00" y="373.30" font-size="4.2" fill="#505050" stroke="#505050" stroke-width="0.07">7.5</text><text x="103.00" y="373.30" font-size="4.2" fill="#505050" stroke="#505050" stroke-width="0.07">102%</text><text x="125.80" y="373.30" font-size="4.2" fill="#505050" stroke="#505050" stroke-width="0.07">70%</text><text x="169.40" y="373.30" font-size="4.2" fill="#505050" stroke="#505050" stroke-width="0.07">1</text><text x="193.80" y="373.30" font-size="4.2" fill="#505050" stroke="#505050" stroke-width="0.07">184</text><text x="217.00" y="373.30" font-size="4.2" fill="#505050" stroke="#505050" stroke-width="0.07">Client 432</text><text x="244.30" y="373.30" font-size="4.2" fill="#505050" stroke="#505050" stroke-width="0.07">96.00 %</text><text x="271.00" y="373.30" font-size="4.2" fill="#505050" stroke="#505050" stroke-width="0.07">7.2</text><text x="49.20" y="383.82" font-size="4.2" fill="#505050" stroke="#505050" stroke-width="0.07">Engineer #42</text><text x="83.00" y="383.82" font-size="4.2" fill="#505050" stroke="#505050" stroke-width="0.07">7.5</text><text x="103.00" y="383.82" font-size="4.2" fill="#505050" stroke="#505050" stroke-width="0.07">102%</text><text x="125.80" y="383.82" font-size="4.2" fill="#505050" stroke="#505050" stroke-width="0.07">70%</text><text x="169.40" y="383.82" font-size="4.2" fill="#505050" stroke="#505050" stroke-width="0.07">1</text><text x="193.80" y="383.82" font-size="4.2" fill="#505050" stroke="#505050" stroke-width="0.07">184</text><text x="217.00" y="383.82" font-size="4.2" fill="#505050" stroke="#505050" stroke-width="0.07">Client 432</text><text x="244.30" y="383.82" font-size="4.2" fill="#505050" stroke="#505050" stroke-width="0.07">96.00 %</text><text x="271.00" y="383.82" font-size="4.2" fill="#505050" stroke="#505050" stroke-width="0.07">7.2</text><text x="49.20" y="394.34" font-size="4.2" fill="#505050" stroke="#505050" stroke-width="0.07">Engineer #42</text><text x="83.00" y="394.34" font-size="4.2" fill="#505050" stroke="#505050" stroke-width="0.07">7.5</text><text x="103.00" y="394.34" font-size="4.2" fill="#505050" stroke="#505050" stroke-width="0.07">102%</text><text x="125.80" y="394.34" font-size="4.2" fill="#505050" stroke="#505050" stroke-width="0.07">70%</text><text x="169.40" y="394.34" font-size="4.2" fill="#505050" stroke="#505050" stroke-width="0.07">1</text><text x="193.80" y="394.34" font-size="4.2" fill="#505050" stroke="#505050" stroke-width="0.07">184</text><text x="217.00" y="394.34" font-size="4.2" fill="#505050" stroke="#505050" stroke-width="0.07">Client 432</text><text x="244.30" y="394.34" font-size="4.2" fill="#505050" stroke="#505050" stroke-width="0.07">96.00 %</text><text x="271.00" y="394.34" font-size="4.2" fill="#505050" stroke="#505050" stroke-width="0.07">7.2</text><text x="49.20" y="404.86" font-size="4.2" fill="#505050" stroke="#505050" stroke-width="0.07">Engineer #42</text><text x="83.00" y="404.86" font-size="4.2" fill="#505050" stroke="#505050" stroke-width="0.07">7.5</text><text x="103.00" y="404.86" font-size="4.2" fill="#505050" stroke="#505050" stroke-width="0.07">102%</text><text x="125.80" y="404.86" font-size="4.2" fill="#505050" stroke="#505050" stroke-width="0.07">70%</text><text x="169.40" y="404.86" font-size="4.2" fill="#505050" stroke="#505050" stroke-width="0.07">1</text><text x="193.80" y="404.86" font-size="4.2" fill="#505050" stroke="#505050" stroke-width="0.07">184</text><text x="217.00" y="404.86" font-size="4.2" fill="#505050" stroke="#505050" stroke-width="0.07">Client 432</text><text x="244.30" y="404.86" font-size="4.2" fill="#505050" stroke="#505050" stroke-width="0.07">96.00 %</text><text x="271.00" y="404.86" font-size="4.2" fill="#505050" stroke="#505050" stroke-width="0.07">7.2</text><text x="49.20" y="415.38" font-size="4.2" fill="#505050" stroke="#505050" stroke-width="0.07">Engineer #42</text><text x="83.00" y="415.38" font-size="4.2" fill="#505050" stroke="#505050" stroke-width="0.07">7.5</text><text x="103.00" y="415.38" font-size="4.2" fill="#505050" stroke="#505050" stroke-width="0.07">102%</text><text x="125.80" y="415.38" font-size="4.2" fill="#505050" stroke="#505050" stroke-width="0.07">70%</text><text x="169.40" y="415.38" font-size="4.2" fill="#505050" stroke="#505050" stroke-width="0.07">1</text><text x="193.80" y="415.38" font-size="4.2" fill="#505050" stroke="#505050" stroke-width="0.07">184</text><text x="217.00" y="415.38" font-size="4.2" fill="#505050" stroke="#505050" stroke-width="0.07">Client 432</text><text x="244.30" y="415.38" font-size="4.2" fill="#505050" stroke="#505050" stroke-width="0.07">96.00 %</text><text x="271.00" y="415.38" font-size="4.2" fill="#505050" stroke="#505050" stroke-width="0.07">7.2</text><text x="49.20" y="425.70" font-size="4.1000000000000005" fill="#38485c" font-weight="bold" stroke="#38485c" stroke-width="0.07">Total</text><text x="81.20" y="425.70" font-size="4.1000000000000005" fill="#38485c" font-weight="bold" stroke="#38485c" stroke-width="0.07">46.5</text><text x="101.40" y="425.70" font-size="4.1000000000000005" fill="#38485c" font-weight="bold" stroke="#38485c" stroke-width="0.07">86.90%</text><text x="124.30" y="425.70" font-size="4.1000000000000005" fill="#38485c" font-weight="bold" stroke="#38485c" stroke-width="0.07">53.00%</text><text x="144.30" y="425.70" font-size="4.1000000000000005" fill="#38485c" font-weight="bold" stroke="#38485c" stroke-width="0.07">0.00%</text><text x="168.80" y="425.70" font-size="4.1000000000000005" fill="#38485c" font-weight="bold" stroke="#38485c" stroke-width="0.07">10</text><text x="193.80" y="425.70" font-size="4.1000000000000005" fill="#38485c" font-weight="bold" stroke="#38485c" stroke-width="0.07">1272</text><text x="217.00" y="425.70" font-size="4.1000000000000005" fill="#38485c" font-weight="bold" stroke="#38485c" stroke-width="0.07">Client 417</text><text x="244.30" y="425.70" font-size="4.1000000000000005" fill="#38485c" font-weight="bold" stroke="#38485c" stroke-width="0.07">77.22 %</text><text x="271.00" y="425.70" font-size="4.1000000000000005" fill="#38485c" font-weight="bold" stroke="#38485c" stroke-width="0.07">37</text><rect x="295.70" y="302.40" width="241.50" height="126.40" fill="#fff" stroke="#cfe2f8" stroke-width="0.4"/><rect x="295.70" y="302.40" width="241.50" height="10.90" fill="#2f8eea" /><rect x="295.70" y="323.72" width="241.50" height="10.52" fill="#edf4fe" /><rect x="295.70" y="344.76" width="241.50" height="10.52" fill="#edf4fe" /><rect x="295.70" y="365.80" width="241.50" height="10.52" fill="#edf4fe" /><rect x="295.70" y="386.84" width="241.50" height="10.52" fill="#edf4fe" /><rect x="295.70" y="407.88" width="241.50" height="10.52" fill="#edf4fe" /><rect x="295.70" y="418.40" width="241.50" height="10.40" fill="#a9d2fa" /><text x="301.60" y="309.80" font-size="4.1" fill="#fff" font-weight="bold" textLength="15.40" lengthAdjust="spacingAndGlyphs" stroke="#fff" stroke-width="0.07">Project</text><text x="335.00" y="309.80" font-size="4.1" fill="#fff" font-weight="bold" textLength="29.70" lengthAdjust="spacingAndGlyphs" stroke="#fff" stroke-width="0.07">Project Type</text><text x="383.10" y="309.80" font-size="4.1" fill="#fff" font-weight="bold" textLength="23.65" lengthAdjust="spacingAndGlyphs" stroke="#fff" stroke-width="0.07">Start Date</text><text x="427.40" y="309.80" font-size="4.1" fill="#fff" font-weight="bold" textLength="20.90" lengthAdjust="spacingAndGlyphs" stroke="#fff" stroke-width="0.07">End Date</text><text x="465.40" y="309.80" font-size="4.1" fill="#fff" font-weight="bold" textLength="19.80" lengthAdjust="spacingAndGlyphs" stroke="#fff" stroke-width="0.07">Last Eng.</text><text x="503.70" y="309.80" font-size="4.1" fill="#fff" font-weight="bold" textLength="29.70" lengthAdjust="spacingAndGlyphs" stroke="#fff" stroke-width="0.07">Resource Hrs</text><text x="301.60" y="320.70" font-size="4.45" fill="#505050" stroke="#505050" stroke-width="0.07">Project 977</text><text x="335.00" y="320.70" font-size="4.45" fill="#505050" stroke="#505050" stroke-width="0.07">BI</text><text x="383.10" y="320.70" font-size="4.45" fill="#505050" stroke="#505050" stroke-width="0.07">2018-03-21</text><text x="427.40" y="320.70" font-size="4.45" fill="#505050" stroke="#505050" stroke-width="0.07">2018-06-21</text><text x="465.40" y="320.70" font-size="4.45" fill="#505050" stroke="#505050" stroke-width="0.07">Engineer #41</text><text x="504.90" y="320.70" font-size="4.45" fill="#505050" stroke="#505050" stroke-width="0.07">584.5</text><text x="301.60" y="331.22" font-size="4.45" fill="#505050" stroke="#505050" stroke-width="0.07">Project 1020</text><text x="335.00" y="331.22" font-size="4.45" fill="#505050" stroke="#505050" stroke-width="0.07">BI</text><text x="383.10" y="331.22" font-size="4.45" fill="#505050" stroke="#505050" stroke-width="0.07">2018-03-25</text><text x="427.40" y="331.22" font-size="4.45" fill="#505050" stroke="#505050" stroke-width="0.07">2018-05-25</text><text x="466.40" y="331.22" font-size="4.45" fill="#505050" stroke="#505050" stroke-width="0.07">Engineer #42</text><text x="504.90" y="331.22" font-size="4.45" fill="#505050" stroke="#505050" stroke-width="0.07">425.6</text><text x="301.60" y="341.74" font-size="4.45" fill="#505050" stroke="#505050" stroke-width="0.07">Project 963</text><text x="335.00" y="341.74" font-size="4.45" fill="#505050" stroke="#505050" stroke-width="0.07">Office 365-General</text><text x="383.10" y="341.74" font-size="4.45" fill="#505050" stroke="#505050" stroke-width="0.07">2018-04-01</text><text x="427.40" y="341.74" font-size="4.45" fill="#505050" stroke="#505050" stroke-width="0.07">2018-05-01</text><text x="466.40" y="341.74" font-size="4.45" fill="#505050" stroke="#505050" stroke-width="0.07">Engineer #5</text><text x="504.90" y="341.74" font-size="4.45" fill="#505050" stroke="#505050" stroke-width="0.07">312.6</text><text x="301.60" y="352.26" font-size="4.45" fill="#505050" stroke="#505050" stroke-width="0.07">Project 1004</text><text x="335.00" y="352.26" font-size="4.45" fill="#505050" stroke="#505050" stroke-width="0.07">BI</text><text x="383.10" y="352.26" font-size="4.45" fill="#505050" stroke="#505050" stroke-width="0.07">2018-04-11</text><text x="427.40" y="352.26" font-size="4.45" fill="#505050" stroke="#505050" stroke-width="0.07">2018-05-11</text><text x="466.40" y="352.26" font-size="4.45" fill="#505050" stroke="#505050" stroke-width="0.07">Engineer #11</text><text x="504.90" y="352.26" font-size="4.45" fill="#505050" stroke="#505050" stroke-width="0.07">299.8</text><text x="301.60" y="362.78" font-size="4.45" fill="#505050" stroke="#505050" stroke-width="0.07">Project 1004</text><text x="335.00" y="362.78" font-size="4.45" fill="#505050" stroke="#505050" stroke-width="0.07">BI</text><text x="383.10" y="362.78" font-size="4.45" fill="#505050" stroke="#505050" stroke-width="0.07">2018-04-11</text><text x="427.40" y="362.78" font-size="4.45" fill="#505050" stroke="#505050" stroke-width="0.07">2018-05-11</text><text x="466.40" y="362.78" font-size="4.45" fill="#505050" stroke="#505050" stroke-width="0.07">Engineer #11</text><text x="504.90" y="362.78" font-size="4.45" fill="#505050" stroke="#505050" stroke-width="0.07">299.8</text><text x="301.60" y="373.30" font-size="4.45" fill="#505050" stroke="#505050" stroke-width="0.07">Project 1004</text><text x="335.00" y="373.30" font-size="4.45" fill="#505050" stroke="#505050" stroke-width="0.07">BI</text><text x="383.10" y="373.30" font-size="4.45" fill="#505050" stroke="#505050" stroke-width="0.07">2018-04-11</text><text x="427.40" y="373.30" font-size="4.45" fill="#505050" stroke="#505050" stroke-width="0.07">2018-05-11</text><text x="466.40" y="373.30" font-size="4.45" fill="#505050" stroke="#505050" stroke-width="0.07">Engineer #11</text><text x="504.90" y="373.30" font-size="4.45" fill="#505050" stroke="#505050" stroke-width="0.07">299.8</text><text x="301.60" y="383.82" font-size="4.45" fill="#505050" stroke="#505050" stroke-width="0.07">Project 1004</text><text x="335.00" y="383.82" font-size="4.45" fill="#505050" stroke="#505050" stroke-width="0.07">BI</text><text x="383.10" y="383.82" font-size="4.45" fill="#505050" stroke="#505050" stroke-width="0.07">2018-04-11</text><text x="427.40" y="383.82" font-size="4.45" fill="#505050" stroke="#505050" stroke-width="0.07">2018-05-11</text><text x="466.40" y="383.82" font-size="4.45" fill="#505050" stroke="#505050" stroke-width="0.07">Engineer #11</text><text x="504.90" y="383.82" font-size="4.45" fill="#505050" stroke="#505050" stroke-width="0.07">299.8</text><text x="301.60" y="394.34" font-size="4.45" fill="#505050" stroke="#505050" stroke-width="0.07">Project 1004</text><text x="335.00" y="394.34" font-size="4.45" fill="#505050" stroke="#505050" stroke-width="0.07">BI</text><text x="383.10" y="394.34" font-size="4.45" fill="#505050" stroke="#505050" stroke-width="0.07">2018-04-11</text><text x="427.40" y="394.34" font-size="4.45" fill="#505050" stroke="#505050" stroke-width="0.07">2018-05-11</text><text x="466.40" y="394.34" font-size="4.45" fill="#505050" stroke="#505050" stroke-width="0.07">Engineer #11</text><text x="504.90" y="394.34" font-size="4.45" fill="#505050" stroke="#505050" stroke-width="0.07">299.8</text><text x="301.60" y="404.86" font-size="4.45" fill="#505050" stroke="#505050" stroke-width="0.07">Project 1004</text><text x="335.00" y="404.86" font-size="4.45" fill="#505050" stroke="#505050" stroke-width="0.07">BI</text><text x="383.10" y="404.86" font-size="4.45" fill="#505050" stroke="#505050" stroke-width="0.07">2018-04-11</text><text x="427.40" y="404.86" font-size="4.45" fill="#505050" stroke="#505050" stroke-width="0.07">2018-05-11</text><text x="466.40" y="404.86" font-size="4.45" fill="#505050" stroke="#505050" stroke-width="0.07">Engineer #11</text><text x="504.90" y="404.86" font-size="4.45" fill="#505050" stroke="#505050" stroke-width="0.07">299.8</text><text x="301.60" y="415.38" font-size="4.45" fill="#505050" stroke="#505050" stroke-width="0.07">Project 1004</text><text x="335.00" y="415.38" font-size="4.45" fill="#505050" stroke="#505050" stroke-width="0.07">BI</text><text x="383.10" y="415.38" font-size="4.45" fill="#505050" stroke="#505050" stroke-width="0.07">2018-04-11</text><text x="427.40" y="415.38" font-size="4.45" fill="#505050" stroke="#505050" stroke-width="0.07">2018-05-11</text><text x="466.40" y="415.38" font-size="4.45" fill="#505050" stroke="#505050" stroke-width="0.07">Engineer #11</text><text x="504.90" y="415.38" font-size="4.45" fill="#505050" stroke="#505050" stroke-width="0.07">299.8</text><text x="301.60" y="425.70" font-size="4.3500000000000005" fill="#38485c" font-weight="bold" stroke="#38485c" stroke-width="0.07">Total</text><text x="383.10" y="425.70" font-size="4.3500000000000005" fill="#38485c" font-weight="bold" stroke="#38485c" stroke-width="0.07">p0</text><text x="427.40" y="425.70" font-size="4.3500000000000005" fill="#38485c" font-weight="bold" stroke="#38485c" stroke-width="0.07">p0</text><text x="466.90" y="425.70" font-size="4.3500000000000005" fill="#38485c" font-weight="bold" stroke="#38485c" stroke-width="0.07">Engineer #41</text><text x="504.90" y="425.70" font-size="4.3500000000000005" fill="#38485c" font-weight="bold" stroke="#38485c" stroke-width="0.07">2,166.0</text><rect x="46.7" y="434.4" width="241.8" height="138.8" rx="3.2" fill="#f1f6fe" stroke="#dbe8f8" stroke-width="0.6"/><rect x="295.7" y="434.4" width="241.50000000000006" height="138.8" rx="3.2" fill="#f1f6fe" stroke="#dbe8f8" stroke-width="0.6"/><text x="167.60" y="444.00" font-size="4.6" fill="#333" text-anchor="middle" font-weight="bold" textLength="93.00" lengthAdjust="spacingAndGlyphs" stroke="#333" stroke-width="0.07">Engineer Billable Hours By Project Type</text><rect x="155.40" y="452.60" width="6.30" height="6.20" fill="#f5a122" /><text x="164.00" y="457.10" font-size="3.9" fill="#444" stroke="#444" stroke-width="0.07">BI</text><rect x="182.30" y="452.60" width="6.30" height="6.20" fill="#4489e4" /><text x="190.40" y="457.10" font-size="3.9" fill="#444" textLength="26.00" lengthAdjust="spacingAndGlyphs" stroke="#444" stroke-width="0.07">Misc Support</text><rect x="229.70" y="452.60" width="6.30" height="6.20" fill="#5a7ff6" /><text x="237.80" y="457.10" font-size="3.9" fill="#444" textLength="40.50" lengthAdjust="spacingAndGlyphs" stroke="#444" stroke-width="0.07">Office 365-General</text><line x1="109.17" y1="468.50" x2="109.17" y2="564.40" stroke="#dfe7f1" stroke-width="0.5" /><line x1="137.44" y1="468.50" x2="137.44" y2="564.40" stroke="#dfe7f1" stroke-width="0.5" /><line x1="165.71" y1="468.50" x2="165.71" y2="564.40" stroke="#dfe7f1" stroke-width="0.5" /><line x1="193.98" y1="468.50" x2="193.98" y2="564.40" stroke="#dfe7f1" stroke-width="0.5" /><line x1="222.25" y1="468.50" x2="222.25" y2="564.40" stroke="#dfe7f1" stroke-width="0.5" /><line x1="250.52" y1="468.50" x2="250.52" y2="564.40" stroke="#dfe7f1" stroke-width="0.5" /><line x1="278.79" y1="468.50" x2="278.79" y2="564.40" stroke="#dfe7f1" stroke-width="0.5" /><text x="77.20" y="474.50" font-size="4.1" fill="#505050" text-anchor="end" stroke="#505050" stroke-width="0.07">Engineer #1</text><rect x="80.90" y="469.10" width="13.60" height="8.00" fill="#f5a122" /><text x="77.20" y="486.69" font-size="4.1" fill="#505050" text-anchor="end" stroke="#505050" stroke-width="0.07">Engineer #15</text><rect x="80.90" y="481.29" width="13.60" height="8.00" fill="#f5a122" /><rect x="94.50" y="481.29" width="9.40" height="8.00" fill="#4489e4" /><text x="77.20" y="498.88" font-size="4.1" fill="#505050" text-anchor="end" stroke="#505050" stroke-width="0.07">Engineer #49</text><rect x="80.90" y="493.48" width="23.00" height="8.00" fill="#4489e4" /><text x="77.20" y="511.07" font-size="4.1" fill="#505050" text-anchor="end" stroke="#505050" stroke-width="0.07">Engineer #5</text><rect x="80.90" y="505.67" width="23.00" height="8.00" fill="#f5a122" /><text x="77.20" y="523.26" font-size="4.1" fill="#505050" text-anchor="end" stroke="#505050" stroke-width="0.07">Engineer #52</text><rect x="80.90" y="517.86" width="42.50" height="8.00" fill="#4489e4" /><text x="77.20" y="535.45" font-size="4.1" fill="#505050" text-anchor="end" stroke="#505050" stroke-width="0.07">Engineer #42</text><rect x="80.90" y="530.05" width="23.00" height="8.00" fill="#4489e4" /><rect x="103.90" y="530.05" width="46.30" height="8.00" fill="#f5a122" /><text x="77.20" y="547.64" font-size="4.1" fill="#505050" text-anchor="end" stroke="#505050" stroke-width="0.07">Engineer #11</text><rect x="80.90" y="542.24" width="69.30" height="8.00" fill="#4489e4" /><text x="77.20" y="559.83" font-size="4.1" fill="#505050" text-anchor="end" stroke="#505050" stroke-width="0.07">Engineer #41</text><rect x="80.90" y="554.43" width="112.90" height="8.00" fill="#4489e4" /><text x="415.90" y="444.00" font-size="4.6" fill="#333" text-anchor="middle" font-weight="bold" textLength="75.00" lengthAdjust="spacingAndGlyphs" stroke="#333" stroke-width="0.07">Available Hours By Project Type</text><text x="313.80" y="453.60" font-size="3.7" fill="#555" text-anchor="end" stroke="#555" stroke-width="0.07">700</text><text x="313.80" y="468.77" font-size="3.7" fill="#555" text-anchor="end" stroke="#555" stroke-width="0.07">600</text><text x="313.80" y="483.94" font-size="3.7" fill="#555" text-anchor="end" stroke="#555" stroke-width="0.07">500</text><text x="313.80" y="499.11" font-size="3.7" fill="#555" text-anchor="end" stroke="#555" stroke-width="0.07">400</text><text x="313.80" y="514.28" font-size="3.7" fill="#555" text-anchor="end" stroke="#555" stroke-width="0.07">300</text><text x="313.80" y="529.45" font-size="3.7" fill="#555" text-anchor="end" stroke="#555" stroke-width="0.07">200</text><text x="313.80" y="544.62" font-size="3.7" fill="#555" text-anchor="end" stroke="#555" stroke-width="0.07">100</text><text x="313.80" y="559.79" font-size="3.7" fill="#555" text-anchor="end" stroke="#555" stroke-width="0.07">0</text><line x1="317.60" y1="452.00" x2="317.60" y2="558.60" stroke="#dfe7f1" stroke-width="0.5" /><line x1="317.60" y1="558.60" x2="530.00" y2="558.60" stroke="#dfe7f1" stroke-width="0.5" /><rect x="320.80" y="466.10" width="12.40" height="92.40" fill="#5a7ff6" /><text x="320.50" y="564.30" font-size="3.7" fill="#444" textLength="12.00" lengthAdjust="spacingAndGlyphs" stroke="#444" stroke-width="0.07">Project</text><text x="320.50" y="569.50" font-size="3.7" fill="#444" stroke="#444" stroke-width="0.07">977</text><rect x="342.14" y="491.90" width="12.40" height="66.60" fill="#5a7ff6" /><text x="341.84" y="564.30" font-size="3.7" fill="#444" textLength="12.00" lengthAdjust="spacingAndGlyphs" stroke="#444" stroke-width="0.07">Project</text><text x="341.84" y="569.50" font-size="3.7" fill="#444" stroke="#444" stroke-width="0.07">1020</text><rect x="363.48" y="509.00" width="12.40" height="49.50" fill="#5a7ff6" /><text x="363.18" y="564.30" font-size="3.7" fill="#444" textLength="12.00" lengthAdjust="spacingAndGlyphs" stroke="#444" stroke-width="0.07">Project</text><text x="363.18" y="569.50" font-size="3.7" fill="#444" stroke="#444" stroke-width="0.07">963</text><rect x="384.82" y="511.00" width="12.40" height="47.50" fill="#5a7ff6" /><text x="384.52" y="564.30" font-size="3.7" fill="#444" textLength="12.00" lengthAdjust="spacingAndGlyphs" stroke="#444" stroke-width="0.07">Project</text><text x="384.52" y="569.50" font-size="3.7" fill="#444" stroke="#444" stroke-width="0.07">1004</text><rect x="406.16" y="529.50" width="12.40" height="29.00" fill="#5a7ff6" /><text x="405.86" y="564.30" font-size="3.7" fill="#444" textLength="12.00" lengthAdjust="spacingAndGlyphs" stroke="#444" stroke-width="0.07">Project</text><text x="405.86" y="569.50" font-size="3.7" fill="#444" stroke="#444" stroke-width="0.07">968</text><rect x="427.50" y="540.00" width="12.40" height="18.50" fill="#5a7ff6" /><text x="427.20" y="564.30" font-size="3.7" fill="#444" textLength="12.00" lengthAdjust="spacingAndGlyphs" stroke="#444" stroke-width="0.07">Project</text><text x="427.20" y="569.50" font-size="3.7" fill="#444" stroke="#444" stroke-width="0.07">927</text><rect x="448.84" y="542.80" width="12.40" height="15.70" fill="#5a7ff6" /><text x="448.54" y="564.30" font-size="3.7" fill="#444" textLength="12.00" lengthAdjust="spacingAndGlyphs" stroke="#444" stroke-width="0.07">Project</text><text x="448.54" y="569.50" font-size="3.7" fill="#444" stroke="#444" stroke-width="0.07">964</text><rect x="470.18" y="547.60" width="12.40" height="10.90" fill="#5a7ff6" /><text x="469.88" y="564.30" font-size="3.7" fill="#444" textLength="12.00" lengthAdjust="spacingAndGlyphs" stroke="#444" stroke-width="0.07">Project</text><text x="469.88" y="569.50" font-size="3.7" fill="#444" stroke="#444" stroke-width="0.07">909</text><rect x="491.52" y="549.20" width="12.40" height="9.30" fill="#5a7ff6" /><text x="491.22" y="564.30" font-size="3.7" fill="#444" textLength="12.00" lengthAdjust="spacingAndGlyphs" stroke="#444" stroke-width="0.07">Project</text><text x="491.22" y="569.50" font-size="3.7" fill="#444" stroke="#444" stroke-width="0.07">980</text><rect x="512.86" y="551.60" width="12.40" height="6.90" fill="#5a7ff6" /><text x="512.56" y="564.30" font-size="3.7" fill="#444" textLength="12.00" lengthAdjust="spacingAndGlyphs" stroke="#444" stroke-width="0.07">Project</text><text x="512.56" y="569.50" font-size="3.7" fill="#444" stroke="#444" stroke-width="0.07">1014</text><line x1="39.40" y1="267.00" x2="39.40" y2="582.60" stroke="#0a0a14" stroke-width="1.2" /><line x1="39.00" y1="267.20" x2="116.50" y2="267.20" stroke="#0a1a30" stroke-width="0.8" /><line x1="116.50" y1="266.90" x2="544.30" y2="266.90" stroke="#dcebfa" stroke-width="0.8" /><line x1="39.00" y1="582.40" x2="544.00" y2="582.40" stroke="#0a1020" stroke-width="0.8" /><line x1="543.60" y1="464.50" x2="543.60" y2="582.80" stroke="#1a1a22" stroke-width="0.8" /></svg></div>
<svg width="775" height="615" viewBox="0 0 775 615" style="position:absolute;left:0;top:0;pointer-events:none"><path d="M105,265.8 L109,264.6 L112.6,258.2 L116,258 L116,265.8 Z" fill="#000"/><path d="M563.1,139.1 L563.8,139.1 L564.2,141.7 L567,145 L569.9,146.8 L571.9,147.2 L571.9,147.9 L569.9,148.1 L569.6,148.9 L565.2,148.9 L563.2,146.8 Z" fill="#000"/><path d="M545,465.3 L549.6,465.1 L553,466.1 L550.6,467.2 L545.7,474.2 L545,474 Z" fill="#000"/><rect x="552.4" y="467.1" width="2.4" height="1.3" fill="#000"/><rect x="556.8" y="467" width="0.9" height="0.8" fill="#000"/></svg>
</body></html>
